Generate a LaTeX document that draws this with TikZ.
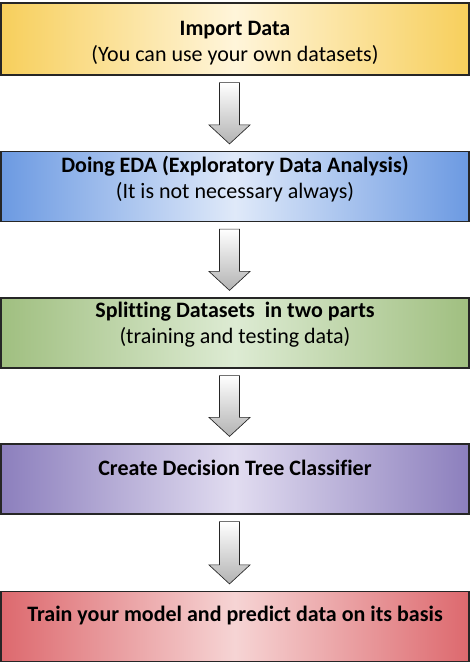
\documentclass[tikz,border=0pt]{standalone}
\usepackage{fontspec}
\setmainfont{Carlito}[Ligatures=CommonOff]
\usetikzlibrary{calc}

\definecolor{goldedge}{HTML}{F7CF5C}
\definecolor{goldmid}{HTML}{FFF5DA}
\definecolor{blueedge}{HTML}{6C9AE2}
\definecolor{bluemid}{HTML}{DFE9F9}
\definecolor{greenedge}{HTML}{A0BF80}
\definecolor{greenmid}{HTML}{DDEBD3}
\definecolor{purpleedge}{HTML}{8C7FBD}
\definecolor{purplemid}{HTML}{E1DCF0}
\definecolor{rededge}{HTML}{DD696E}
\definecolor{redmid}{HTML}{F6D4D4}

% text sits near the top of each box
\newcommand{\stagetxt}[2][23pt]{\parbox[c][52pt][t]{350pt}{\centering\rule{0pt}{#1}#2}}
% grey block arrow from one box down to the next
\newcommand{\flowarrow}[2]{%
  \path[fatarrow] let \p1=($(#1.south)+(-5.5,7)$), \p2=($(#2.north)+(-5.5,-7)$) in
    (\x1-7.5pt,\y1) -- (\x1+7.5pt,\y1) -- (\x1+7.5pt,\y2+14.25pt)
    -- (\x1+15.4pt,\y2+14.25pt) -- (\x1,\y2) -- (\x1-15.4pt,\y2+14.25pt)
    -- (\x1-7.5pt,\y2+14.25pt) -- cycle;}

\begin{document}
\begin{tikzpicture}[
  x=0.75pt, y=-0.75pt,
  stage/.style={draw=black!85, line width=0.9pt, inner sep=0pt,
                minimum width=351pt, minimum height=52.5pt,
                font=\fontsize{16.5}{19.5}\selectfont},
  goldstage/.style={stage, left color=goldedge, right color=goldedge, middle color=goldmid},
  bluestage/.style={stage, left color=blueedge, right color=blueedge, middle color=bluemid},
  greenstage/.style={stage, left color=greenedge, right color=greenedge, middle color=greenmid},
  purplestage/.style={stage, left color=purpleedge, right color=purpleedge, middle color=purplemid},
  redstage/.style={stage, left color=rededge, right color=rededge, middle color=redmid},
  fatarrow/.style={draw=black!85, line width=0.5pt, top color=white, bottom color=black!30}
]
  \useasboundingbox (0,0) rectangle (470,662);

  \node[goldstage, minimum height=54pt] (import) at (235,39)
    {\stagetxt{\textbf{Import Data}\\(You can use your own datasets)}};
  \node[bluestage] (eda) at (235,186.5)
    {\stagetxt[15.5pt]{\textbf{Doing EDA (Exploratory Data Analysis)}\\(It is not necessary always)}};
  \node[greenstage] (split) at (235,333)
    {\stagetxt[14.5pt]{\textbf{Splitting Datasets\ \ in two parts}\\(training and testing data)}};
  \node[purplestage] (tree) at (235,479)
    {\stagetxt{\textbf{Create Decision Tree Classifier}}};
  \node[redstage] (train) at (235,626.5)
    {\stagetxt[22pt]{\textbf{Train your model and predict data on its basis}}};

  \flowarrow{import}{eda}
  \flowarrow{eda}{split}
  \flowarrow{split}{tree}
  \flowarrow{tree}{train}
\end{tikzpicture}
\end{document}
